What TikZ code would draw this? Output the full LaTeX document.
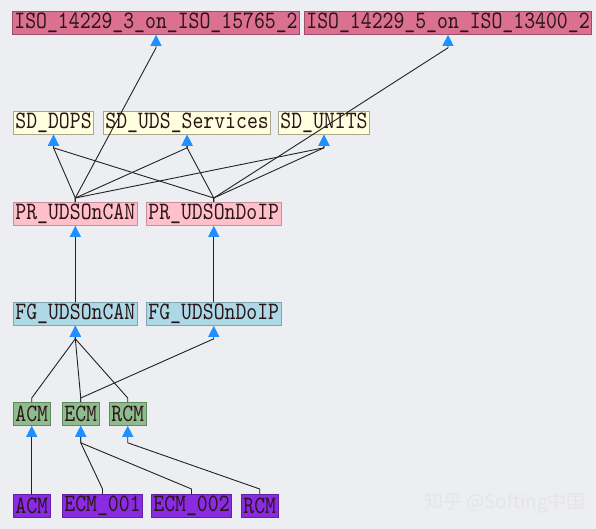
\documentclass[tikz,border=0pt]{standalone}
\usepackage{fontspec}
\newfontfamily\cjkfont{Noto Sans CJK SC}
\newfontfamily\cajafont{lmmono10-regular}[Extension=.otf, FakeStretch=0.83]
\usetikzlibrary{arrows.meta,calc}

\definecolor{fondo}{HTML}{ECEEF2}
\definecolor{texto}{HTML}{2A1518}
\definecolor{linea}{HTML}{222222}
\definecolor{flecha}{HTML}{1E90FF}
\definecolor{isofill}{HTML}{DB7093}
\definecolor{isoborde}{HTML}{9A5068}
\definecolor{sdfill}{HTML}{FFFFE0}
\definecolor{sdborde}{HTML}{A8A890}
\definecolor{prfill}{HTML}{FFC0CB}
\definecolor{prborde}{HTML}{C8909A}
\definecolor{fgfill}{HTML}{ADD8E6}
\definecolor{fgborde}{HTML}{7FA6B4}
\definecolor{ecufill}{HTML}{8FBC8F}
\definecolor{ecuborde}{HTML}{5E8A5E}
\definecolor{varfill}{HTML}{8A2BE2}
\definecolor{varborde}{HTML}{6320A8}

\begin{document}
\begin{tikzpicture}[
        x=1pt, y=-1pt,
        font={\cajafont\fontsize{25}{25}\selectfont},
        caja/.style={draw, anchor=north west, minimum height=23pt, inner xsep=2pt, inner ysep=0pt, line width=0.8pt, text=texto},
        iso/.style={caja, fill=isofill, draw=isoborde},
        sd/.style={caja, fill=sdfill, draw=sdborde},
        pr/.style={caja, fill=prfill, draw=prborde},
        fg/.style={caja, fill=fgfill, draw=fgborde},
        ecu/.style={caja, fill=ecufill, draw=ecuborde},
        var/.style={caja, fill=varfill, draw=varborde},
        link/.style={draw=linea, line width=0.9pt, -{Triangle[width=11pt,length=11pt,color=flecha]}}
    ]
        % Fondo
        \fill[fondo] (0,0) rectangle (596,529);
        \useasboundingbox (0,0) rectangle (596,529);

        % Protocolos
        \node[iso] (iso3) at (12,11) {ISO\_14229\_3\_on\_ISO\_15765\_2};
        \node[iso] (iso5) at (304,11) {ISO\_14229\_5\_on\_ISO\_13400\_2};

        % Datos compartidos
        \node[sd] (sddops) at (13,111) {SD\_DOPS};
        \node[sd] (sduds) at (103,111) {SD\_UDS\_Services};
        \node[sd] (sdunits) at (278,111) {SD\_UNITS};

        % Capa de protocolo
        \node[pr] (prcan) at (13,202) {PR\_UDSOnCAN};
        \node[pr] (prdoip) at (146,202) {PR\_UDSOnDoIP};

        % Grupos funcionales
        \node[fg] (fgcan) at (13,302) {FG\_UDSOnCAN};
        \node[fg] (fgdoip) at (146,302) {FG\_UDSOnDoIP};

        % ECUs base
        \node[ecu] (acm) at (13,402) {ACM};
        \node[ecu] (ecm) at (62,402) {ECM};
        \node[ecu] (rcm) at (109,402) {RCM};

        % Variantes
        \node[var] (acmv) at (13,494) {ACM};
        \node[var] (ecm1) at (62,494) {ECM\_001};
        \node[var] (ecm2) at (151,494) {ECM\_002};
        \node[var] (rcmv) at (241,494) {RCM};

        % Herencia
        \draw[link] (prcan.north) -- ++(0,-4) -- ($(iso3.south)+(0,13)$) -- (iso3.south);
        \draw[link] (prdoip.north) -- ++(0,-4) -- ($(iso5.south)+(0,13)$) -- (iso5.south);

        \foreach \s in {sddops,sduds,sdunits}
            \foreach \p in {prcan,prdoip}
                \draw[link] (\p.north) -- ++(0,-4) -- ($(\s.south)+(0,13)$) -- (\s.south);

        \draw[link] (fgcan.north) -- (prcan.south);
        \draw[link] (fgdoip.north) -- (prdoip.south);

        \foreach \e in {acm,ecm,rcm}
            \draw[link] (\e.north) -- ++(0,-4) -- ($(fgcan.south)+(0,13)$) -- (fgcan.south);
        \draw[link] (ecm.north) -- ++(0,-4) -- ($(fgdoip.south)+(0,13)$) -- (fgdoip.south);

        \draw[link] (acmv.north) -- (acm.south);
        \draw[link] (ecm1.north) -- ++(0,-5) -- ($(ecm.south)+(0,17)$) -- (ecm.south);
        \draw[link] (ecm2.north) -- ++(0,-5) -- ($(ecm.south)+(0,17)$) -- (ecm.south);
        \draw[link] (rcmv.north) -- ++(0,-5) -- ($(rcm.south)+(0,17)$) -- (rcm.south);

        % Marca de agua
        \node[font={\cjkfont\fontsize{19}{19}\selectfont}, text=white!80!gray] (marca) at (505,503) {知乎 @Softing中国};

    \end{tikzpicture}
\end{document}
